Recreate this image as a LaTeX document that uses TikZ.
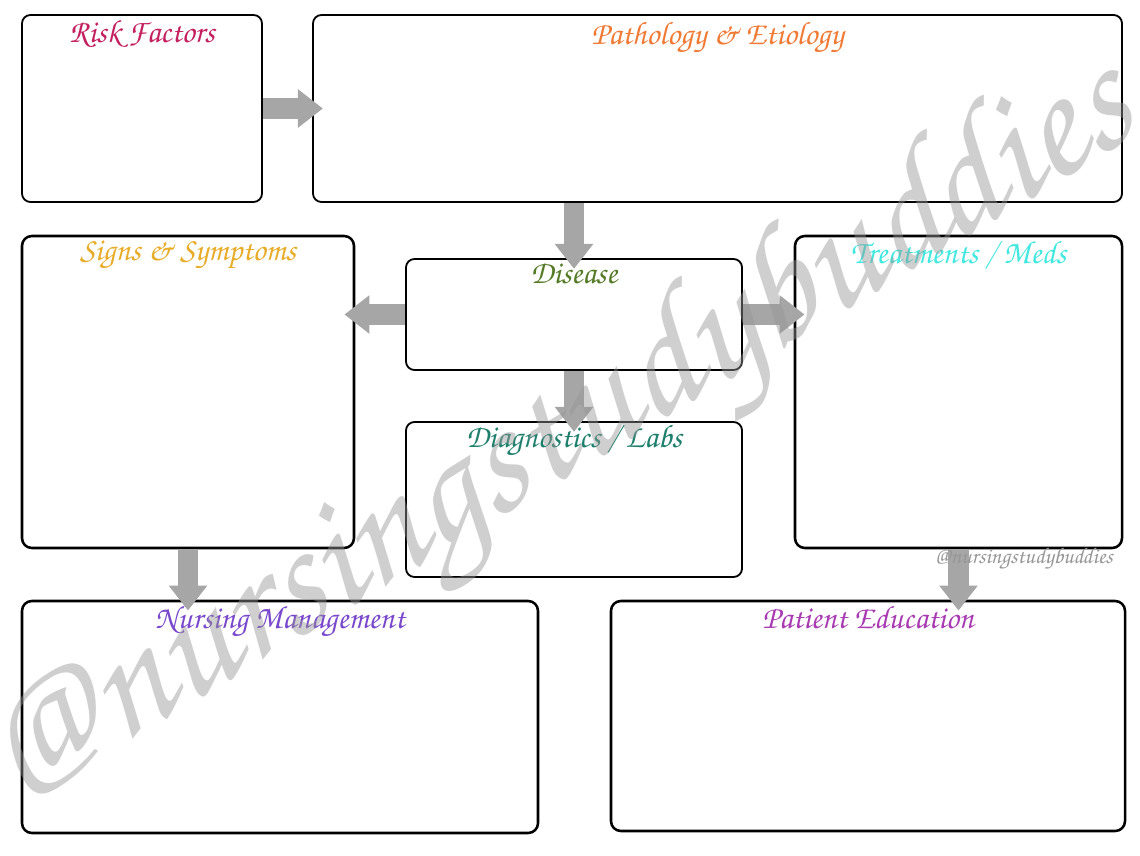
\documentclass[tikz,border=0pt]{standalone}
\usepackage{tikz}
\usetikzlibrary{positioning}
\usetikzlibrary{arrows.meta}

\definecolor{arrowGray}{RGB}{166,166,166}
\definecolor{markGray}{RGB}{150,150,150}
\definecolor{riskCol}{RGB}{196,32,96}
\definecolor{pathCol}{RGB}{240,122,52}
\definecolor{signCol}{RGB}{232,172,40}
\definecolor{disCol}{RGB}{84,122,38}
\definecolor{treatCol}{RGB}{64,232,224}
\definecolor{diagCol}{RGB}{30,128,108}
\definecolor{nursCol}{RGB}{122,72,204}
\definecolor{eduCol}{RGB}{168,58,178}

\newcommand{\chanceryFont}[1]{\fontencoding{T1}\fontfamily{pzc}\fontseries{m}\fontshape{it}\fontsize{#1}{#1}\selectfont}

\tikzset{
	thinBox/.style={rectangle, draw=black, line width=1.3pt, fill=white, rounded corners=6pt},
	thickBox/.style={rectangle, draw=black, line width=1.8pt, fill=white, rounded corners=7pt},
	boxTitle/.style={inner sep=1pt, font=\chanceryFont{23}},
	flowArrow/.style={draw=arrowGray, line width=0.52cm, -{Triangle[length=0.625cm, width=0.925cm]}, shorten >=-0.27cm}
}

\begin{document}
\begin{tikzpicture}
	\useasboundingbox[fill=white] (0,0) rectangle (28.5,21.375);

	\node[thinBox, minimum width=6cm, minimum height=4.675cm](riskFact) at (3.55,18.6625){};
	\node[thinBox, minimum width=20.225cm, minimum height=4.675cm](pathEtio) at (17.9375,18.6625){};
	\node[thickBox, minimum width=8.3cm, minimum height=7.8cm](signsSym) at (4.7,11.575){};
	\node[thinBox, minimum width=8.4cm, minimum height=2.775cm](disease) at (14.35,13.5125){};
	\node[thickBox, minimum width=8.175cm, minimum height=7.8cm](treatMeds) at (23.9625,11.575){};
	\node[thinBox, minimum width=8.4cm, minimum height=3.875cm](diagLabs) at (14.35,8.8875){};
	\node[thickBox, minimum width=12.9cm, minimum height=5.8cm](nursMgmt) at (7.0,3.45){};
	\node[thickBox, minimum width=12.85cm, minimum height=5.75cm](patEdu) at (21.7,3.475){};

	\node[boxTitle, text=riskCol, below=0.1cm of riskFact.north](riskTitle){Risk Factors};
	\node[boxTitle, text=pathCol, below=0.15cm of pathEtio.north](pathTitle){Pathology \& Etiology};
	\node[boxTitle, text=signCol, below=0.1cm of signsSym.north](signsTitle){Signs \& Symptoms};
	\node[boxTitle, text=disCol, below=0.05cm of disease.north](disTitle){Disease};
	\node[boxTitle, text=treatCol, below=0.1cm of treatMeds.north](treatTitle){Treatments / Meds};
	\node[boxTitle, text=diagCol, below=0.05cm of diagLabs.north](diagTitle){Diagnostics / Labs};
	\node[boxTitle, text=nursCol, below=0.1cm of nursMgmt.north](nursTitle){Nursing Management};
	\node[boxTitle, text=eduCol, below=0.1cm of patEdu.north](eduTitle){Patient Education};

	\draw[flowArrow](riskFact.east) -- (pathEtio.west |- riskFact.east);
	\draw[flowArrow](disease.north |- pathEtio.south) -- (disease.north);
	\draw[flowArrow](disease.west) -- (signsSym.east |- disease.west);
	\draw[flowArrow](disease.east) -- (treatMeds.west |- disease.east);
	\draw[flowArrow](disease.south) -- (diagLabs.north);
	\draw[flowArrow](signsSym.south) -- (signsSym.south |- nursMgmt.north);
	\draw[flowArrow](treatMeds.south) -- (treatMeds.south |- patEdu.north);

	\node[text=markGray, font=\chanceryFont{16}](smallMark) at (25.6,7.4){@nursingstudybuddies};
	\node[text=markGray, opacity=0.45, rotate=31, font=\chanceryFont{118}](bigMark) at (14.1,10.4){@nursingstudybuddies};

\end{tikzpicture}
\end{document}
